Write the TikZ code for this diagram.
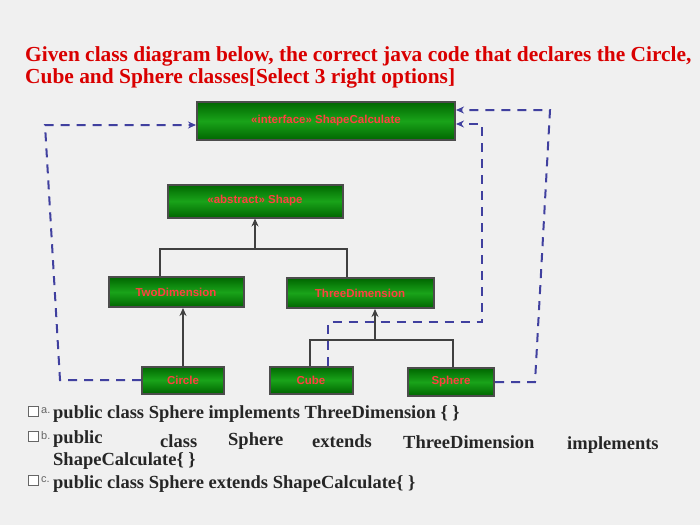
\documentclass[tikz,border=0pt]{standalone}
\usepackage{fontspec}
\setmainfont{Liberation Serif}
\setsansfont{Liberation Sans}
\usetikzlibrary{arrows.meta}
\begin{document}
\begin{tikzpicture}[x=1pt,y=-1pt,
  cls/.style={draw=black!70,line width=2pt,top color=green!40!black,bottom color=green!40!black,middle color=green!60!black!90!white,inner sep=0,font=\sffamily\bfseries\fontsize{11.5}{12}\selectfont,text=red!75!white,minimum height=30},
  gen/.style={draw=black!75,line width=2pt,-{Stealth[length=8pt,width=7pt]}},
  real/.style={draw=blue!50!black!75,line width=2pt,dash pattern=on 9pt off 7pt,-{Stealth[length=8pt,width=7pt]}},
  ttl/.style={anchor=west,text=red!85!black,font=\bfseries\fontsize{21.4}{24}\selectfont,inner sep=0},
  opt/.style={anchor=west,text=black!85,font=\bfseries\fontsize{18.5}{20}\selectfont,inner sep=0},
  lbl/.style={font=\sffamily\fontsize{11}{12}\selectfont,text=black!60,anchor=west,inner sep=0},
  box/.style={draw=black!60,line width=0.8pt,fill=white,minimum size=10,inner sep=0}]
\fill[black!6] (0,0) rectangle (700,525);
\useasboundingbox (0,0) rectangle (700,525);
\node[ttl] (t1) at (25,56) {Given class diagram below, the correct java code that declares the Circle,};
\node[ttl] (t2) at (25,78) {Cube and Sphere classes[Select 3 right options]};
\node[cls,minimum width=258,minimum height=38] (sc) at (326,121) {<<interface>> ShapeCalculate};
\node[cls,minimum width=175,minimum height=33] (sh) at (255,201) {<<abstract>> Shape};
\node[cls,minimum width=135] (two) at (176,292) {TwoDimension};
\node[cls,minimum width=147] (three) at (360,293) {ThreeDimension};
\node[cls,minimum width=82,minimum height=27] (ci) at (183,380) {Circle};
\node[cls,minimum width=83,minimum height=27] (cu) at (311,380) {Cube};
\node[cls,minimum width=86,minimum height=28] (sp) at (451,382) {Sphere};
% generalization
\coordinate (h1) at (160,249); \coordinate (h2) at (347,249);
\draw[draw=black!75,line width=2pt] (two.north -| h1) -- (h1) -- (h2) -- (three.north -| h2);
\draw[gen] (255,249) -- (sh.south);
\draw[gen] (ci.north) -- (two.south -| ci.north);
\coordinate (g1) at (310,340); \coordinate (g2) at (453,340);
\draw[draw=black!75,line width=2pt] (cu.north -| g1) -- (g1) -- (g2) -- (sp.north -| g2);
\draw[gen] (375,340) -- (three.south -| 375,0);
% realization
\draw[real] (ci.west) -- (60,380) -- (45,125) -- (sc.west |- 0,125);
\draw[real] (sp.east) -- (535,382) -- (550,110) -- (sc.east |- 0,110);
\draw[real] (cu.north -| 328,0) -- (328,322) -- (482,322) -- (482,124) -- (sc.east |- 0,124);
% options
\node[box] (ba) at (33,411) {};
\node[lbl] (la) at (41,411) {a.};
\node[opt] (oa) at (53,414) {public class Sphere implements ThreeDimension \{ \}};
\node[box] (bb) at (33,436) {};
\node[lbl] (lb) at (41,436) {b.};
\node[opt] (ob1) at (53,439) {public};
\node[opt] (ob2) at (160,441) {class};
\node[opt] (ob3) at (228,441) {Sphere};
\node[opt] (ob4) at (312,441) {extends};
\node[opt] (ob5) at (403,442) {ThreeDimension};
\node[opt] (ob6) at (567,445) {implements};
\node[opt] (ob7) at (53,461) {ShapeCalculate\{ \}};
\node[box] (bc) at (33,480) {};
\node[lbl] (lc) at (41,480) {c.};
\node[opt] (oc) at (53,484) {public class Sphere extends ShapeCalculate\{ \}};
\end{tikzpicture}
\end{document}
